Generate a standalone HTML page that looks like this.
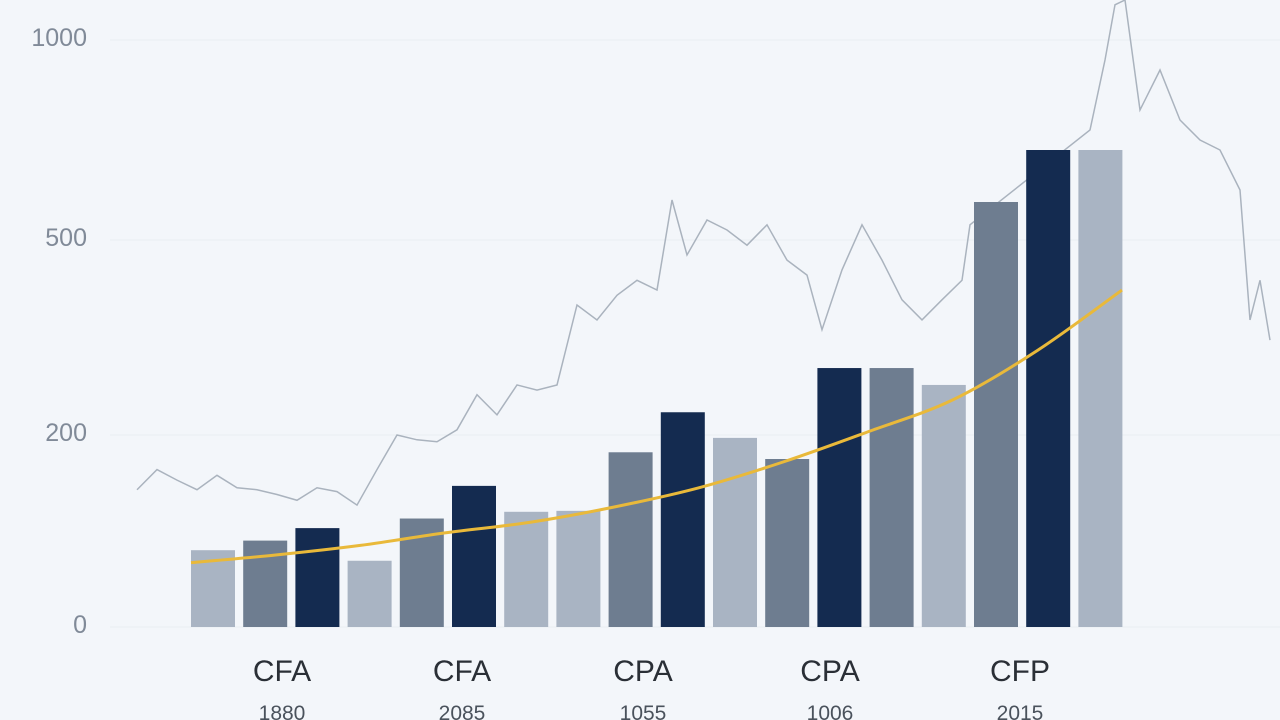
<!DOCTYPE html>
<html><head><meta charset="utf-8"><style>
html,body{margin:0;padding:0;background:#f3f6fa;}
svg{display:block;font-family:"Liberation Sans",sans-serif;}
</style></head><body>
<svg id="chart" width="1280" height="720" viewBox="0 0 1280 720">
<rect x="0" y="0" width="1280" height="720" fill="#f3f6fa"/>
<g id="grid"></g><g id="trend"></g><g id="bars"></g><g id="curve"></g><g id="labels"></g>
</svg>
<script>
const yTicks=[0,200,500,1000];
const barValues=[80,90,103,69,113,147,120,121,182,235,197,175,303,303,277,595,725,725];
const barKinds=[0,1,2,0,1,2,0,0,1,2,0,1,2,1,0,1,2,0];
const curveValues=[67,75,85,98,109,125,145,172,205,254,330,423];
const trendValues=[143,164,153,143,158,145,143,138,132,145,141,127,164,200,195,193,208,262,231,277,269,277,400,377,415,438,423,600,477,550,525,492,538,469,446,362,454,538,469,408,377,408,438,538,775,950,1088,1100,825,925,800,750,725,625,377,438,346];
const trendTime=[137,157,177,197,217,237,257,277,297,317,337,357,377,397,417,437,457,477,497,517,537,557,577,597,617,637,657,672,687,707,727,747,767,787,807,822,842,862,882,902,922,942,962,970,1090,1105,1115,1125,1140,1160,1180,1200,1220,1240,1250,1260,1270];
const groupLabels=["CFA","CFA","CPA","CPA","CFP"];
const groupYears=["1880","2085","1055","1006","2015"];
const groupCenters=[282,462,643,830,1020];

const NS="http://www.w3.org/2000/svg";
const sv=[0,200,500,1000], sp=[627,435,240,40];
function y(v){
  if(v<=0)return 627;
  for(let i=0;i<3;i++){ if(v<=sv[i+1]||i==2){const t=(v-sv[i])/(sv[i+1]-sv[i]);return sp[i]+t*(sp[i+1]-sp[i]);} }
}
function xBar(i){return 191+i*52.2;}
function mk(t,a,p){const e=document.createElementNS(NS,t);for(const k in a)e.setAttribute(k,a[k]);p.appendChild(e);return e;}
const colors=["#a9b4c3","#6e7d90","#142b50"];
const grid=document.getElementById('grid');
yTicks.forEach(v=>{
  const ln=mk('line',{x1:110,x2:1280,y1:y(v),y2:y(v),stroke:'#e9edf3','stroke-width':1},grid);
  
  
  const t=mk('text',{x:87,y:y(v)+6,'text-anchor':'end','font-size':25,fill:'#808a98'},grid);
  t.textContent=v;
  
  
});
const tr=document.getElementById('trend');
const tp=mk('polyline',{points:trendValues.map((v,i)=>trendTime[i]+','+y(v)).join(' '),fill:'none',stroke:'#aab3be','stroke-width':1.5},tr);


const bg=document.getElementById('bars');
barValues.forEach((v,i)=>{
  const r=mk('rect',{x:xBar(i),y:y(v),width:44,height:627-y(v),fill:colors[barKinds[i]]},bg);
  
  
});
const cg=document.getElementById('curve');
const pts=curveValues.map((v,i)=>[191+i*(931/(curveValues.length-1)),y(v)]);
let d='M'+pts[0][0]+','+pts[0][1];
for(let i=0;i<pts.length-1;i++){
  const p0=pts[Math.max(0,i-1)],p1=pts[i],p2=pts[i+1],p3=pts[Math.min(pts.length-1,i+2)];
  const c1=[p1[0]+(p2[0]-p0[0])/6,p1[1]+(p2[1]-p0[1])/6];
  const c2=[p2[0]-(p3[0]-p1[0])/6,p2[1]-(p3[1]-p1[1])/6];
  d+=' C'+c1[0]+','+c1[1]+' '+c2[0]+','+c2[1]+' '+p2[0]+','+p2[1];
}
const cp=mk('path',{d:d,fill:'none',stroke:'#e9b93a','stroke-width':3},cg);


const lg=document.getElementById('labels');
groupLabels.forEach((s,i)=>{
  const t=mk('text',{x:groupCenters[i],y:681,'text-anchor':'middle','font-size':30,fill:'#2a2f36'},lg);
  t.textContent=s;
  
  
  const u=mk('text',{x:groupCenters[i],y:720,'text-anchor':'middle','font-size':21,fill:'#4a525c'},lg);
  u.textContent=groupYears[i];
  
  
});
</script>
</body></html>
